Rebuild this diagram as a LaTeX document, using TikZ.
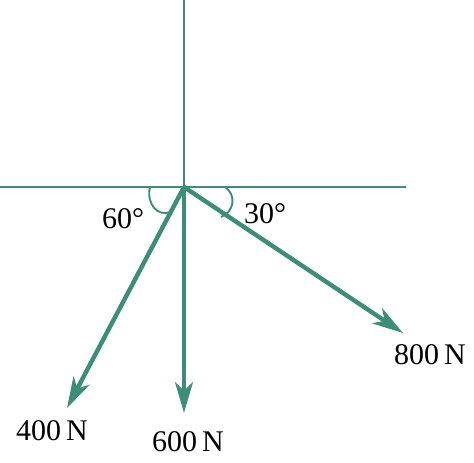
\documentclass[tikz,border=0pt]{standalone}
\usepackage{fontspec}
\setmainfont{Liberation Serif}
\usetikzlibrary{arrows.meta}
\definecolor{fc}{RGB}{60,142,120}
\begin{document}
\begin{tikzpicture}[x=1pt,y=-1pt,
  axis/.style={draw=fc,line width=2.4pt},
  force/.style={draw=fc,line width=4.4pt,-{Stealth[length=31pt,width=18pt,inset=9pt]}},
  anglearc/.style={draw=fc,line width=1.9pt},
  lbl/.style={font=\fontsize{30}{33}\selectfont,inner sep=0pt}]
\useasboundingbox (0,0) rectangle (474,463);
\coordinate (O) at (184,187);
\coordinate (top) at (184,0);
\coordinate (left) at (0,187);
\coordinate (right) at (406,187);
\coordinate (t4) at (67,408);
\coordinate (t6) at (184,413);
\coordinate (t8) at (403,333);
\draw[axis] (top) -- (O);
\draw[axis] (left) -- (right);
\draw[force] (O) -- (t4);
\draw[force] (O) -- (t6);
\draw[force] (O) -- (t8);
\draw[anglearc] (150,187) .. controls (146,204) and (158,217) .. (170,212);
\draw[anglearc] (225,187) .. controls (237,195) and (234,212) .. (221,217);
\node[lbl] (n60) at (123,219) {60°};
\node[lbl] (n30) at (265,214) {30°};
\node[lbl] (n400) at (52,431) {400\,N};
\node[lbl] (n600) at (188,442) {600\,N};
\node[lbl] (n800) at (430,355) {800\,N};
\end{tikzpicture}
\end{document}
